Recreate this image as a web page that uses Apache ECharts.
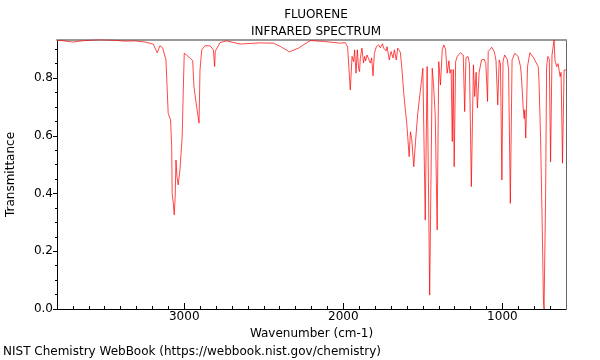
<!DOCTYPE html>
<html><head><meta charset="utf-8">
<script src="https://cdn.jsdelivr.net/npm/echarts@6/dist/echarts.min.js"></script>
<style>html,body{margin:0;padding:0;background:#fff}#c{width:600px;height:360px}</style>
</head><body><div id="c"></div>
<script>
const wavenumbers = [3800,3770,3701,3626,3531,3436,3374,3311,3248,3195,3170,3153,3136,3115,3101,3086,3079,3076,3069,3063,3057,3052,3046,3038,3027,3013,3006,3000,2985,2964,2947,2939,2922,2907,2901,2890,2870,2838,2817,2809,2805,2775,2733,2649,2586,2523,2439,2397,2339,2282,2208,2124,2019,1988,1973,1956,1945,1935,1929,1920,1912,1904,1898,1893,1883,1873,1866,1860,1851,1841,1830,1822,1813,1805,1792,1778,1767,1753,1747,1731,1725,1711,1700,1687,1679,1667,1658,1647,1641,1631,1620,1610,1602,1595,1586,1578,1570,1557,1546,1532,1519,1500,1485,1473,1457,1441,1433,1422,1410,1400,1389,1378,1368,1357,1347,1336,1330,1322,1315,1309,1303,1294,1284,1263,1246,1237,1229,1216,1207,1195,1182,1174,1165,1157,1146,1131,1114,1104,1093,1089,1067,1050,1040,1029,1020,1012,1003,996,986,969,961,950,939,922,901,886,880,869,863,859,853,842,827,802,775,770,760,749,742,738,734,728,722,714,705,697,688,682,675,669,658,650,637,631,622,612,600];
const transmittance = [0.930,0.930,0.925,0.930,0.933,0.931,0.928,0.929,0.925,0.918,0.888,0.912,0.905,0.863,0.678,0.655,0.563,0.400,0.367,0.326,0.389,0.516,0.460,0.430,0.482,0.597,0.759,0.886,0.880,0.869,0.861,0.770,0.700,0.644,0.828,0.898,0.912,0.912,0.898,0.840,0.893,0.923,0.929,0.918,0.920,0.922,0.921,0.910,0.891,0.904,0.930,0.927,0.921,0.923,0.908,0.759,0.875,0.857,0.898,0.817,0.898,0.834,0.823,0.869,0.904,0.852,0.875,0.860,0.880,0.875,0.852,0.870,0.808,0.885,0.909,0.915,0.905,0.919,0.904,0.894,0.909,0.863,0.892,0.870,0.898,0.863,0.904,0.895,0.888,0.828,0.747,0.690,0.650,0.597,0.528,0.614,0.590,0.493,0.580,0.678,0.740,0.834,0.308,0.840,0.048,0.834,0.780,0.667,0.274,0.857,0.776,0.898,0.915,0.900,0.817,0.860,0.817,0.830,0.580,0.830,0.493,0.857,0.875,0.888,0.880,0.684,0.870,0.875,0.850,0.424,0.846,0.736,0.820,0.696,0.820,0.863,0.865,0.850,0.719,0.892,0.907,0.890,0.860,0.707,0.863,0.850,0.447,0.857,0.880,0.865,0.830,0.366,0.863,0.886,0.875,0.840,0.805,0.696,0.660,0.690,0.592,0.840,0.888,0.869,0.840,0.794,0.597,0.274,0.031,0.000,0.000,0.400,0.840,0.875,0.865,0.510,0.880,0.885,0.932,0.860,0.840,0.850,0.805,0.820,0.505,0.828,0.828];
const xMajorTicks = [1000,2000,3000];
const xMinorTicks = [];
for (let v = 700; v <= 3700; v += 100) if (v % 1000) xMinorTicks.push(v);
const yMajorTicks = [0,0.2,0.4,0.6,0.8];
const yMinorTicks = [0.05,0.1,0.15,0.25,0.3,0.35,0.45,0.5,0.55,0.65,0.7,0.75,0.85,0.9];
const titles = ['FLUORENE','INFRARED SPECTRUM'];
const xName = 'Wavenumber (cm-1)';
const yName = 'Transmittance';
const footer = 'NIST Chemistry WebBook (https://webbook.nist.gov/chemistry)';

const FONT = 'DejaVu Sans';
const X_MIN = 600, X_MAX = 3800, Y_MIN = 0, Y_MAX = 0.932;
const chart = echarts.init(document.getElementById('c'), null, {renderer:'canvas'});
const data = wavenumbers.map((w,i)=>[w, transmittance[i]]);
const baseX = {type:'value', min:X_MIN, max:X_MAX, inverse:true, splitLine:{show:false}};
const baseY = {type:'value', min:Y_MIN, max:Y_MAX, splitLine:{show:false}};
chart.setOption({
  animation:false,
  backgroundColor:'#fff',
  title: [
    {text:titles[0], left:311, top:4, textAlign:'center', textStyle:{fontFamily:FONT,fontSize:12,fontWeight:'normal',color:'#000'}},
    {text:titles[1], left:311, top:21, textAlign:'center', textStyle:{fontFamily:FONT,fontSize:12,fontWeight:'normal',color:'#000'}}
  ],
  grid:{left:57, right:34, top:40, bottom:51, containLabel:false, outerBoundsMode:'none'},
  xAxis:[
    Object.assign({}, baseX, {position:'bottom', name:xName, nameLocation:'middle', nameGap:14,
      nameTextStyle:{fontFamily:FONT,fontSize:12,color:'#000'},
      axisLine:{show:true,onZero:false,lineStyle:{color:'#000',width:1}},
      axisTick:{show:true,inside:true,length:6,customValues:xMajorTicks,lineStyle:{color:'#000'}},
      axisLabel:{show:true,customValues:xMajorTicks,margin:2,fontFamily:FONT,fontSize:12,color:'#000',
        formatter:v=>String(Math.round(v))}}),
    Object.assign({}, baseX, {position:'bottom',
      axisLine:{show:false,onZero:false},
      axisTick:{show:true,inside:true,length:3,customValues:xMinorTicks,lineStyle:{color:'#000'}},
      axisLabel:{show:false}}),
    Object.assign({}, baseX, {position:'top',
      axisLine:{show:true,onZero:false,lineStyle:{color:'#999',width:2}},
      axisTick:{show:false}, axisLabel:{show:false}})
  ],
  yAxis:[
    Object.assign({}, baseY, {position:'left', name:yName, nameLocation:'middle', nameGap:40,
      nameTextStyle:{fontFamily:FONT,fontSize:12,color:'#000'},
      axisLine:{show:true,onZero:false,lineStyle:{color:'#000',width:1}},
      axisTick:{show:true,inside:false,length:4,customValues:yMajorTicks,lineStyle:{color:'#000'}},
      axisLabel:{show:true,customValues:yMajorTicks,margin:4,fontFamily:FONT,fontSize:12,color:'#000',
        formatter:v=>Number(v).toFixed(1)}}),
    Object.assign({}, baseY, {position:'left',
      axisLine:{show:false,onZero:false},
      axisTick:{show:true,inside:false,length:2,customValues:yMinorTicks,lineStyle:{color:'#000'}},
      axisLabel:{show:false}}),
    Object.assign({}, baseY, {position:'right',
      axisLine:{show:true,onZero:false,lineStyle:{color:'#666',width:1}},
      axisTick:{show:false}, axisLabel:{show:false}})
  ],
  graphic:[
    {type:'text', left:3, top:346, style:{text:footer, font:'12px "DejaVu Sans"', fill:'#000'}}
  ],
  series:[{
    type:'line', data:data, xAxisIndex:0, yAxisIndex:0, showSymbol:false, symbol:'none',
    lineStyle:{color:'#ff0000', width:0.9, opacity:0.8}, clip:true
  }]
});
</script></body></html>
